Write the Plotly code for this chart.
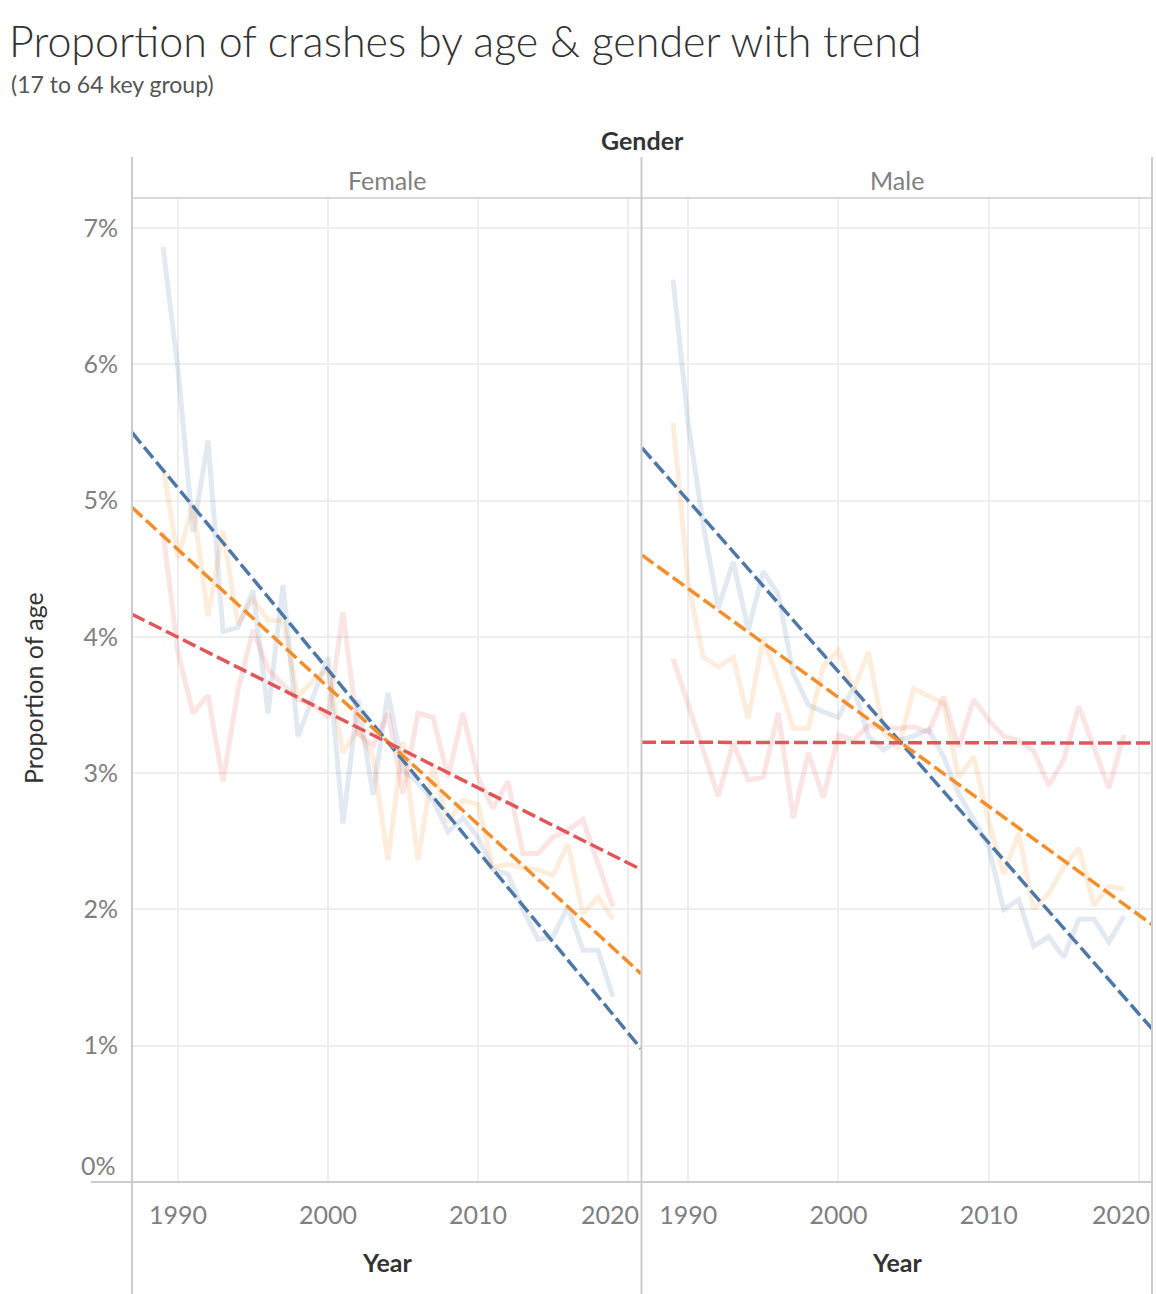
import numpy as np
import plotly.graph_objects as go

# ---------------- data ----------------
years = list(range(1989, 2020))

female_blue = [6.86, 5.96, 4.77, 5.44, 4.04, 4.07, 4.34, 3.44, 4.38, 3.27, 3.56, 3.85, 2.63, 3.54, 2.84, 3.59,
               3.02, 2.93, 2.80, 2.57, 2.67, 2.53, 2.29, 2.26, 2.00, 1.78, 1.80, 2.02, 1.70, 1.70, 1.36]
female_orange = [5.25, 4.58, 4.97, 4.15, 4.78, 4.09, 4.28, 4.12, 4.12, 3.56, 3.68, 3.76, 3.15, 3.32, 3.12, 2.36,
                 3.23, 2.36, 3.05, 2.64, 2.80, 2.77, 2.31, 2.33, 2.31, 2.29, 2.25, 2.48, 1.97, 2.09, 1.93]
female_red = [4.77, 3.88, 3.44, 3.57, 2.94, 3.61, 4.05, 3.76, 3.65, 3.54, 3.50, 3.41, 4.18, 3.29, 3.20, 3.44,
              2.85, 3.44, 3.41, 2.97, 3.44, 2.97, 2.74, 2.94, 2.41, 2.41, 2.53, 2.58, 2.66, 2.34, 2.02]

male_blue = [6.62, 5.57, 4.83, 4.21, 4.55, 4.05, 4.48, 4.31, 3.73, 3.50, 3.45, 3.41, 3.63, 3.27, 3.17, 3.24,
             3.27, 3.32, 3.12, 2.85, 2.66, 2.46, 2.00, 2.07, 1.73, 1.80, 1.65, 1.93, 1.93, 1.76, 1.95]
male_orange = [5.57, 4.40, 3.85, 3.78, 3.85, 3.40, 3.99, 3.68, 3.33, 3.33, 3.79, 3.90, 3.61, 3.89, 3.30, 3.18,
               3.62, 3.56, 3.51, 2.97, 3.12, 2.65, 2.26, 2.56, 2.00, 2.12, 2.31, 2.45, 2.03, 2.17, 2.15]
male_red = [3.84, 3.49, 3.17, 2.83, 3.22, 2.95, 2.97, 3.44, 2.67, 3.15, 2.82, 3.28, 3.24, 3.35, 3.33, 3.33,
            3.34, 3.30, 3.56, 3.19, 3.54, 3.39, 3.27, 3.24, 3.16, 2.91, 3.10, 3.49, 3.19, 2.89, 3.28]

genders = ["Female", "Male"]
groups = ["Group 1", "Group 2", "Group 3"]
x_ticks = [1990, 2000, 2010, 2020]
x_tick_labels = ["1990", "2000", "2010", "2020"]
y_ticks = [0, 1, 2, 3, 4, 5, 6, 7]
y_tick_labels = ["0%", "1%", "2%", "3%", "4%", "5%", "6%", "7%"]

series = {
    "Female": [female_blue, female_orange, female_red],
    "Male": [male_blue, male_orange, male_red],
}

# ---------------- style ----------------
colors = ["#4e79a7", "#f28e2b", "#e15759"]
light = ["rgba(78,121,167,0.16)", "rgba(242,142,43,0.16)", "rgba(225,87,89,0.16)"]
XR = [1986.93, 2020.87]
YR = [0, 7.22]
FONT = "Lato"
TICK_FONT = dict(family=FONT, size=25, color="#808080")
W, H = 1156, 1294
L, R, T, B = 132, 4, 198, 112
PW, PH = W - L - R, H - T - B


def px_x(p):
    return (p - L) / PW


def px_y(p):
    return (H - B - p) / PH


fig = go.Figure()
xaxes = ["x", "x2"]
yaxes = ["y", "y2"]
for gi, g in enumerate(genders):
    for si, vals in enumerate(series[g]):
        fig.add_trace(go.Scatter(
            x=years, y=vals, mode="lines", name=groups[si],
            line=dict(color=light[si], width=5),
            xaxis=xaxes[gi], yaxis=yaxes[gi], showlegend=False,
        ))
    for si, vals in enumerate(series[g]):
        k, b0 = np.polyfit(years, vals, 1)
        tx = np.array(XR)
        fig.add_trace(go.Scatter(
            x=tx, y=k * tx + b0, mode="lines", name=groups[si] + " trend",
            line=dict(color=colors[si], width=3.5, dash="14px,5px"),
            xaxis=xaxes[gi], yaxis=yaxes[gi], showlegend=False,
        ))

axis_common = dict(
    showgrid=True, gridcolor="#eeeeee", gridwidth=2, zeroline=False,
    showline=False, ticks="", tickfont=TICK_FONT, automargin=False,
)
# last x label and first y label are placed as annotations (shifted inward like the original)
xt_text = x_tick_labels[:-1] + [""]
yt_text = [""] + y_tick_labels[1:]
fig.update_layout(
    xaxis=dict(domain=[0, px_x(641)], range=XR, tickvals=x_ticks, ticktext=xt_text,
               ticklabelstandoff=16, **axis_common),
    xaxis2=dict(domain=[px_x(642), 1], range=XR, tickvals=x_ticks, ticktext=xt_text,
                ticklabelstandoff=16, anchor="y2", **axis_common),
    yaxis=dict(domain=[0, 1], range=YR, tickvals=y_ticks, ticktext=yt_text,
               ticklabelstandoff=13, **axis_common),
    yaxis2=dict(domain=[0, 1], range=YR, tickvals=y_ticks, anchor="x2", showticklabels=False,
                **axis_common),
)

line_col = "#cccccc"
shapes = []
for xp in [132, 641.5, 1152]:
    shapes.append(dict(type="line", xref="paper", yref="paper", x0=px_x(xp), x1=px_x(xp),
                       y0=px_y(157), y1=px_y(1294), line=dict(color=line_col, width=2)))
shapes.append(dict(type="line", xref="paper", yref="paper", x0=0, x1=1,
                   y0=px_y(198), y1=px_y(198), line=dict(color=line_col, width=1.5)))
shapes.append(dict(type="line", xref="paper", yref="paper", x0=px_x(91), x1=1,
                   y0=px_y(1182), y1=px_y(1182), line=dict(color=line_col, width=2)))

LBL = 25
annotations = [
    dict(text="(17 to 64 key group)", xref="paper", yref="paper", x=px_x(9), y=px_y(84),
         xanchor="left", yanchor="middle", showarrow=False,
         font=dict(family=FONT, size=23, color="#555555")),
    dict(text="<b>Gender</b>", xref="paper", yref="paper", x=px_x(642), y=px_y(140),
         xanchor="center", yanchor="middle", showarrow=False,
         font=dict(family=FONT, size=LBL, color="#333333")),
    dict(text="Female", xref="paper", yref="paper", x=px_x(387), y=px_y(180),
         xanchor="center", yanchor="middle", showarrow=False,
         font=dict(family=FONT, size=LBL, color="#808080")),
    dict(text="Male", xref="paper", yref="paper", x=px_x(897), y=px_y(180),
         xanchor="center", yanchor="middle", showarrow=False,
         font=dict(family=FONT, size=LBL, color="#808080")),
    dict(text="<b>Year</b>", xref="paper", yref="paper", x=px_x(387), y=px_y(1262),
         xanchor="center", yanchor="middle", showarrow=False,
         font=dict(family=FONT, size=LBL, color="#333333")),
    dict(text="<b>Year</b>", xref="paper", yref="paper", x=px_x(897), y=px_y(1262),
         xanchor="center", yanchor="middle", showarrow=False,
         font=dict(family=FONT, size=LBL, color="#333333")),
    dict(text="Proportion of age", xref="paper", yref="paper", x=px_x(33), y=px_y(688),
         xanchor="center", yanchor="middle", textangle=-90, showarrow=False,
         font=dict(family=FONT, size=LBL, color="#333333")),
    # 0% label lifted above the axis line
    dict(text=y_tick_labels[0], xref="paper", yref="y", x=px_x(118), y=y_ticks[0], yshift=17,
         xanchor="right", yanchor="middle", showarrow=False, font=TICK_FONT),
]
# 2020 labels shifted inward
for xa in ["x", "x2"]:
    annotations.append(dict(text=x_tick_labels[-1], xref=xa, yref="paper", x=x_ticks[-1], xshift=-18,
                            y=px_y(1214), xanchor="center", yanchor="middle", showarrow=False,
                            font=TICK_FONT))

fig.update_layout(
    width=W, height=H,
    margin=dict(l=L, r=R, t=T, b=B, autoexpand=False),
    paper_bgcolor="white", plot_bgcolor="white",
    title=dict(text="Proportion of crashes by age & gender with trend",
               xref="container", yref="container", x=9 / W, y=1 - 42 / H,
               xanchor="left", yanchor="middle",
               font=dict(family=FONT, size=43, color="#333333", weight=300)),
    shapes=shapes, annotations=annotations, showlegend=False,
)

fig.write_html("out.html")
